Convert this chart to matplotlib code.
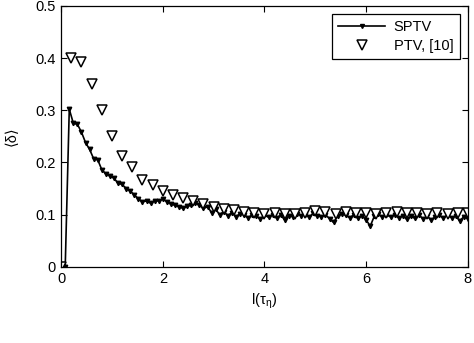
import numpy as np
import matplotlib
matplotlib.use("Agg")
import matplotlib.pyplot as plt

plt.rcParams['font.family'] = ['Liberation Sans', 'DejaVu Sans']
plt.rcParams['mathtext.fontset'] = 'custom'
plt.rcParams['mathtext.rm'] = 'Liberation Sans'
plt.rcParams['mathtext.it'] = 'Liberation Sans'

# SPTV: sampled every 0.08 time units
sptv_x = np.round(np.arange(101) * 0.08, 2)
sptv_y = [
    0, 0, 0.302, 0.275, 0.273, 0.258, 0.238, 0.225, 0.207, 0.205,
    0.186, 0.178, 0.174, 0.170, 0.160, 0.158, 0.150, 0.145, 0.138, 0.130,
    0.125, 0.126, 0.122, 0.127, 0.126, 0.130, 0.125, 0.120, 0.118, 0.115,
    0.112, 0.116, 0.118, 0.122, 0.118, 0.112, 0.115, 0.104, 0.110, 0.100,
    0.106, 0.098, 0.104, 0.096, 0.102, 0.100, 0.094, 0.100, 0.097, 0.092,
    0.099, 0.095, 0.100, 0.094, 0.099, 0.090, 0.098, 0.096, 0.102, 0.098,
    0.100, 0.095, 0.103, 0.098, 0.096, 0.100, 0.092, 0.085, 0.098, 0.102,
    0.099, 0.094, 0.100, 0.093, 0.098, 0.090, 0.078, 0.097, 0.101, 0.095,
    0.099, 0.096, 0.100, 0.094, 0.098, 0.091, 0.097, 0.093, 0.099, 0.092,
    0.097, 0.090, 0.096, 0.099, 0.093, 0.100, 0.094, 0.098, 0.088, 0.096,
    0.092,
]

# PTV reference data, every 0.2
ptv_x = np.round(np.arange(41) * 0.2, 2)
ptv_y = [
    0, 0.400, 0.392, 0.350, 0.300, 0.250, 0.212, 0.192, 0.167, 0.157,
    0.145, 0.138, 0.132, 0.126, 0.120, 0.115, 0.111, 0.108, 0.106, 0.104,
    0.102, 0.103, 0.102, 0.101, 0.104, 0.107, 0.105, 0.102, 0.106, 0.103,
    0.104, 0.102, 0.103, 0.105, 0.103, 0.104, 0.102, 0.104, 0.101, 0.103,
    0.104,
]

fig = plt.figure(figsize=(4.74, 3.43), dpi=100)
ax = fig.add_axes([0.129, 0.222, 0.858, 0.761])

ax.plot(sptv_x, sptv_y, '-', color='black', lw=1.2, marker='v',
        markersize=3.2, markerfacecolor='black', label='SPTV')
ax.plot(ptv_x, ptv_y, 'v', color='black', markersize=7.5,
        markerfacecolor='white', markeredgewidth=1.1, linestyle='none',
        label='PTV, [10]')

ax.set_xlim(0, 8)
ax.set_ylim(0, 0.5)
ax.set_xticks([0, 2, 4, 6, 8])
ax.set_yticks([0, 0.1, 0.2, 0.3, 0.4, 0.5])
ax.set_yticklabels(['0', '0.1', '0.2', '0.3', '0.4', '0.5'])
ax.tick_params(direction='in', top=True, right=True, labelsize=10.5,
               length=4, width=0.8, pad=4)
for s in ax.spines.values():
    s.set_linewidth(0.9)

ax.set_xlabel(r'l($\mathregular{\tau_\eta}$)', fontsize=10.5, labelpad=4)
ax.set_ylabel('⟨δ⟩', fontsize=10.5, labelpad=12)

leg = ax.legend(loc='upper right', fontsize=10.5, frameon=True, fancybox=False,
                edgecolor='black', framealpha=1, borderaxespad=0.55,
                handlelength=3.2, handletextpad=0.6, borderpad=0.45,
                labelspacing=0.3, markerscale=0.9)
leg.get_frame().set_linewidth(0.9)

fig.savefig('out.png', dpi=100)
